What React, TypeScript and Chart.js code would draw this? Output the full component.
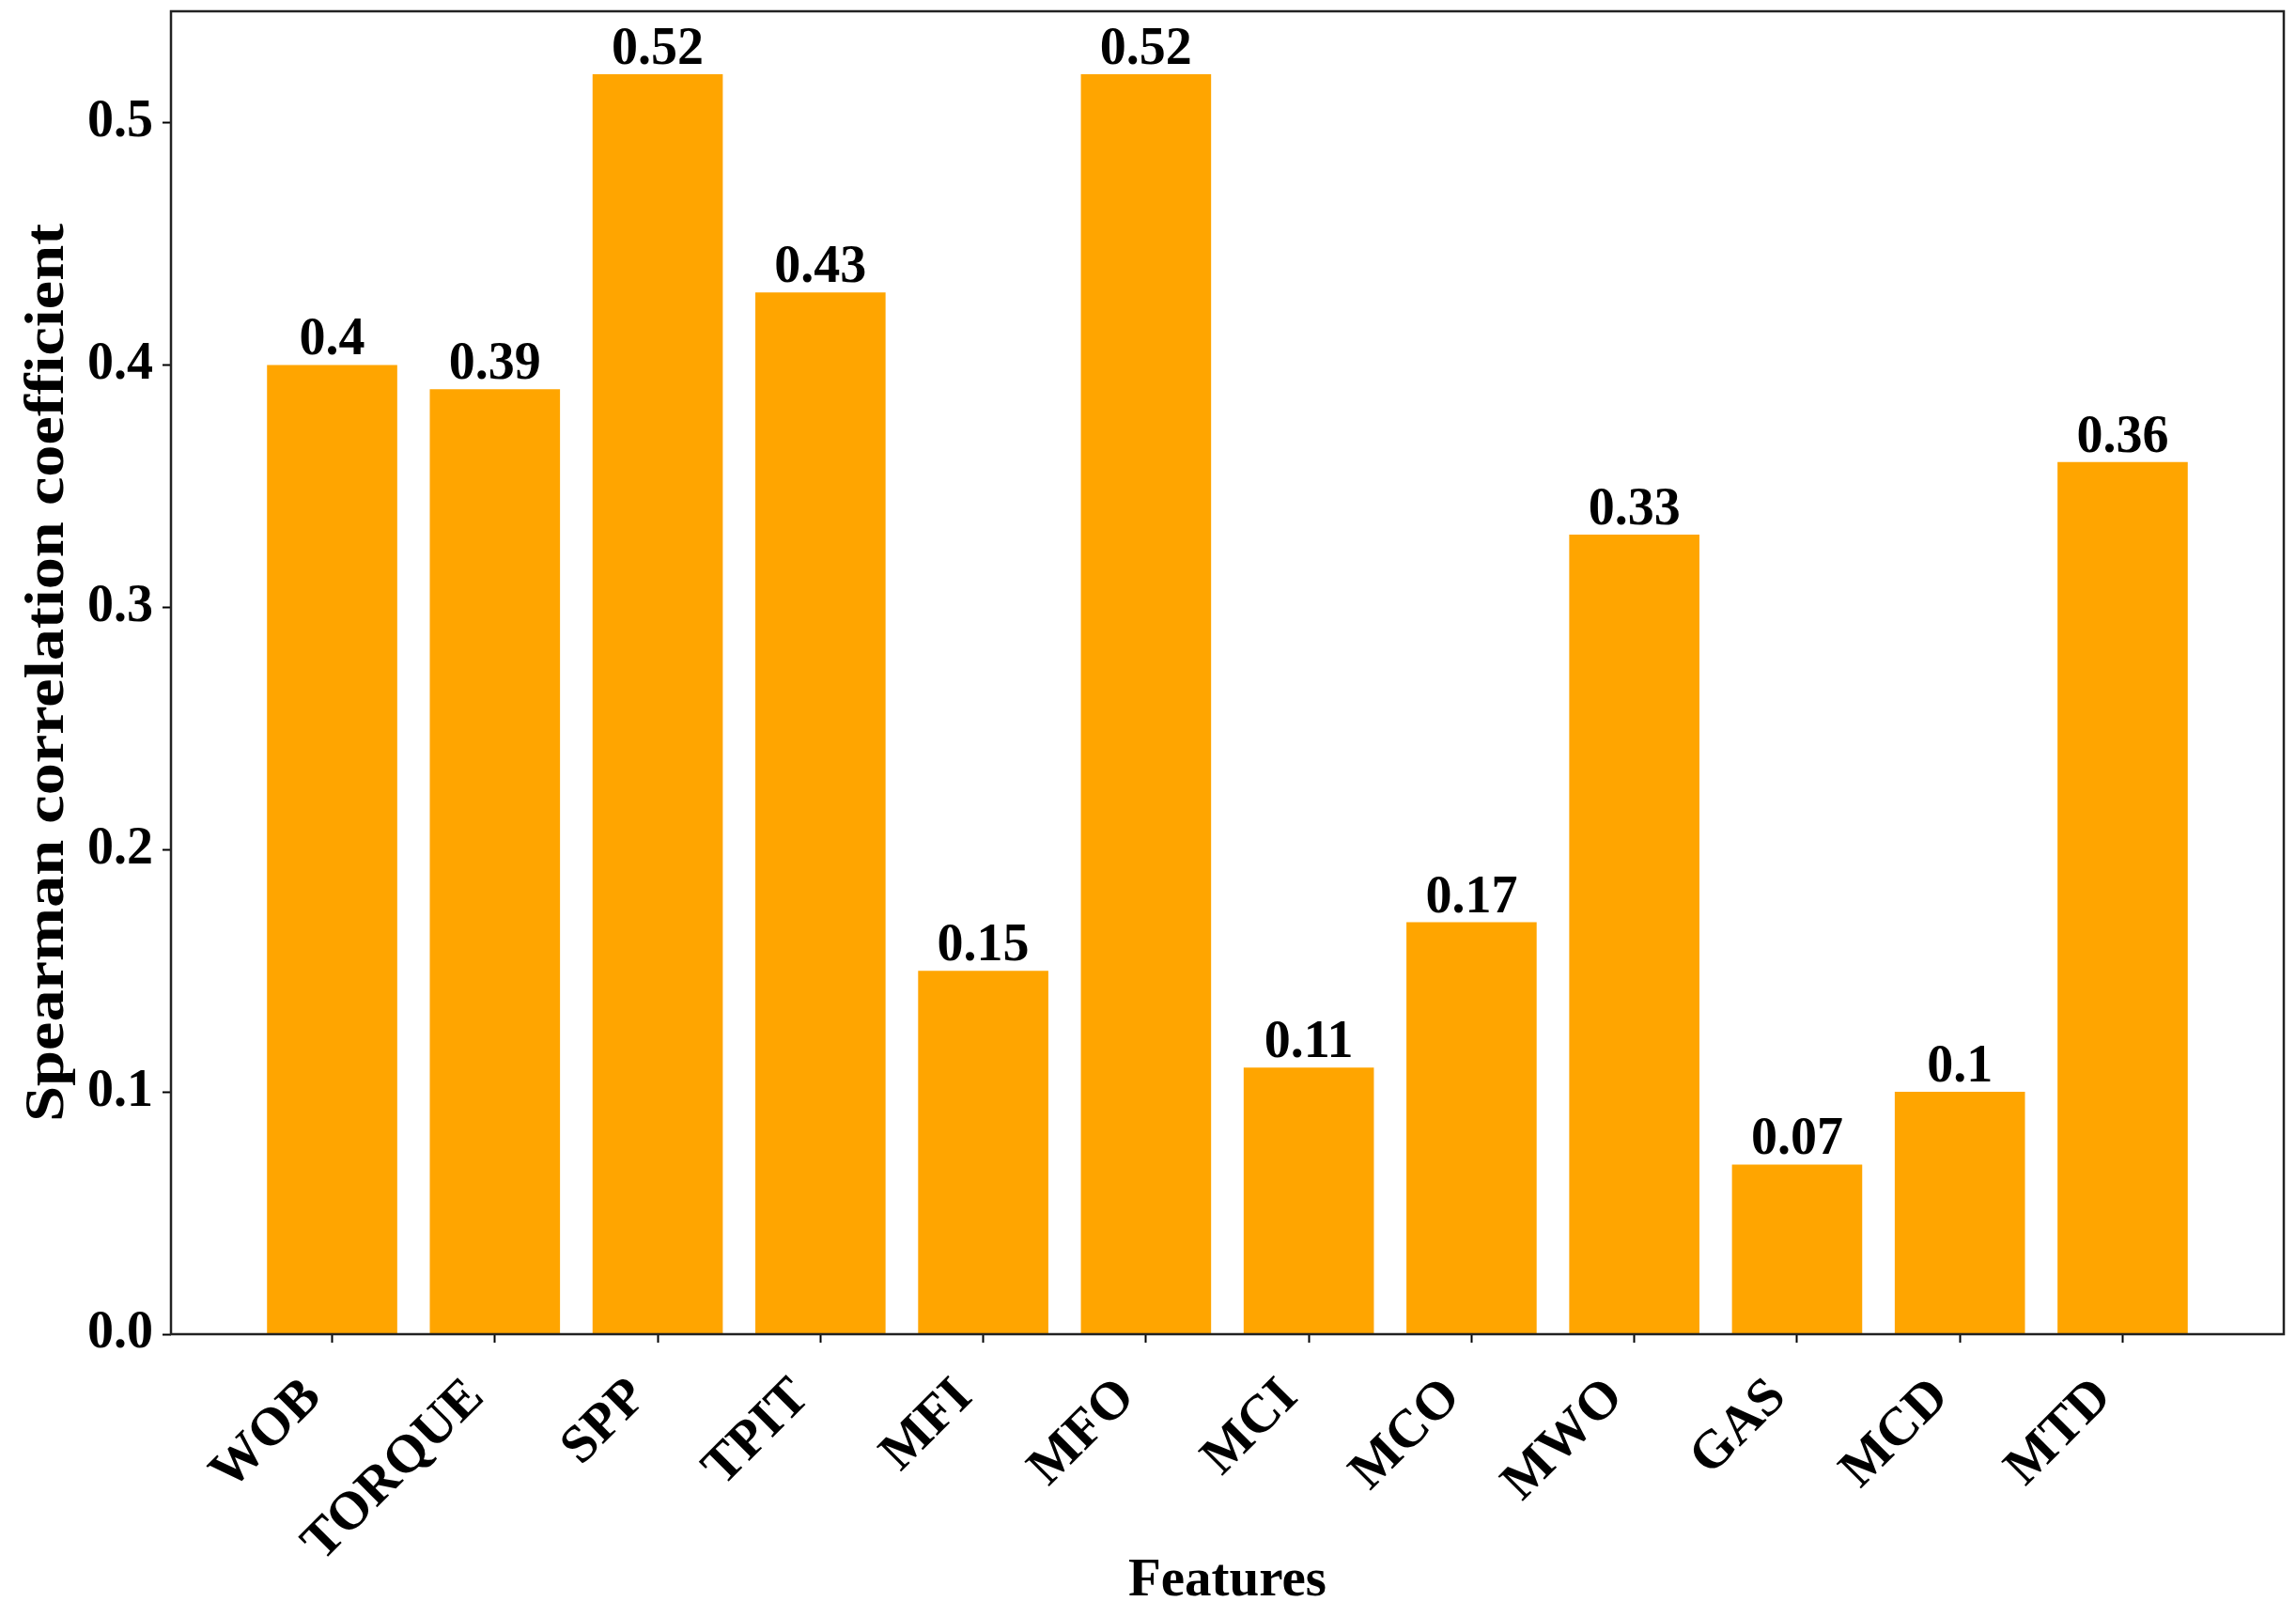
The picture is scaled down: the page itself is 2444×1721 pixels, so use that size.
import React, { useEffect, useRef } from "react";
import { Chart, registerables } from "chart.js";

Chart.register(...registerables);

const categories: string[] = ["WOB", "TORQUE", "SPP", "TPIT", "MFI", "MFO", "MCI", "MCO", "MWO", "GAS", "MCD", "MTD"];
const values: number[] = [0.4, 0.39, 0.52, 0.43, 0.15, 0.52, 0.11, 0.17, 0.33, 0.07, 0.1, 0.36];
const yTicks: number[] = [0.0, 0.1, 0.2, 0.3, 0.4, 0.5];
const yTitle = "Spearman correlation coefficient";
const xTitle = "Features";

const FONT = "'Liberation Serif', 'Times New Roman', serif";
const BAR_COLOR = "#FFA500";

export default function App() {
  const ref = useRef<HTMLCanvasElement | null>(null);

  useEffect(() => {
    document.body.style.margin = "0";
    const canvas = ref.current;
    if (!canvas) return;

    const valueLabels = {
      id: "valueLabels",
      afterDatasetsDraw(chart: any) {
        const ctx = chart.ctx;
        const meta = chart.getDatasetMeta(0);
        ctx.save();
        ctx.fillStyle = "#000";
        ctx.font = `bold 56px ${FONT}`;
        ctx.textAlign = "center";
        ctx.textBaseline = "alphabetic";
        meta.data.forEach((bar: any, i: number) => {
          ctx.fillText(String(values[i]), bar.x, bar.y - 11);
        });
        ctx.restore();
      },
    };

    const frameAndTitle = {
      id: "frameAndTitle",
      afterDraw(chart: any) {
        const { ctx, chartArea } = chart;
        ctx.save();
        ctx.strokeStyle = "#222";
        ctx.lineWidth = 2.5;
        ctx.strokeRect(chartArea.left, chartArea.top, chartArea.right - chartArea.left, chartArea.bottom - chartArea.top);
        ctx.restore();

        ctx.save();
        ctx.translate(49, (chartArea.top + chartArea.bottom) / 2);
        ctx.rotate(-Math.PI / 2);
        ctx.scale(1.14, 1);
        ctx.fillStyle = "#000";
        ctx.font = `bold 60px ${FONT}`;
        ctx.textAlign = "center";
        ctx.textBaseline = "middle";
        ctx.fillText(yTitle, 0, 2);
        ctx.restore();
      },
    };

    const chart = new Chart(canvas, {
      type: "bar",
      data: {
        datasets: [
          {
            data: values.map((v, i) => ({ x: i, y: v })),
            backgroundColor: BAR_COLOR,
            borderWidth: 0,
            barPercentage: 0.8,
            categoryPercentage: 1.0,
          },
        ],
      },
      options: {
        responsive: false,
        animation: false,
        devicePixelRatio: 1,
        layout: { padding: { top: 12, right: 13, left: 0, bottom: 0 } },
        plugins: { legend: { display: false }, tooltip: { enabled: false } },
        scales: {
          x: {
            type: "linear",
            offset: false,
            min: -0.99,
            max: 11.99,
            afterFit(scale: any) {
              scale.height = 301;
              scale.paddingLeft = 0;
              scale.paddingRight = 0;
            },
            border: { display: false },
            grid: { display: true, offset: false, drawOnChartArea: false, drawTicks: true, tickLength: 9, tickWidth: 2, color: "#000" },
            ticks: {
              stepSize: 1,
              includeBounds: false,
              autoSkip: false,
              minRotation: 45,
              maxRotation: 45,
              padding: 5,
              color: "#000",
              font: { family: FONT, size: 57, weight: "bold" },
              callback: (v: any) => {
                const i = Math.round(Number(v));
                return Math.abs(Number(v) - i) < 1e-6 && i >= 0 && i < categories.length ? categories[i] + "  " : "";
              },
            },
            title: {
              display: true,
              text: xTitle,
              color: "#000",
              font: { family: FONT, size: 57, weight: "bold", lineHeight: 1.2 },
              padding: { top: 0, bottom: 4 },
            },
          },
          y: {
            type: "linear",
            min: 0,
            max: 0.546,
            afterFit(scale: any) {
              scale.width = 182;
              scale.paddingTop = 0;
              scale.paddingBottom = 0;
            },
            afterBuildTicks(scale: any) {
              scale.ticks = yTicks.map((v) => ({ value: v }));
            },
            border: { display: false },
            grid: { display: true, drawOnChartArea: false, drawTicks: true, tickLength: 9, tickWidth: 2, color: "#000" },
            ticks: {
              includeBounds: false,
              padding: 10,
              color: "#000",
              font: { family: FONT, size: 56, weight: "bold" },
              callback: (v: any) => Number(v).toFixed(1),
            },
            title: { display: false },
          },
        },
      },
      plugins: [valueLabels, frameAndTitle],
    } as any);

    return () => chart.destroy();
  }, []);

  return <canvas ref={ref} width={2444} height={1721} style={{ display: "block", width: 2444, height: 1721 }} />;
}
